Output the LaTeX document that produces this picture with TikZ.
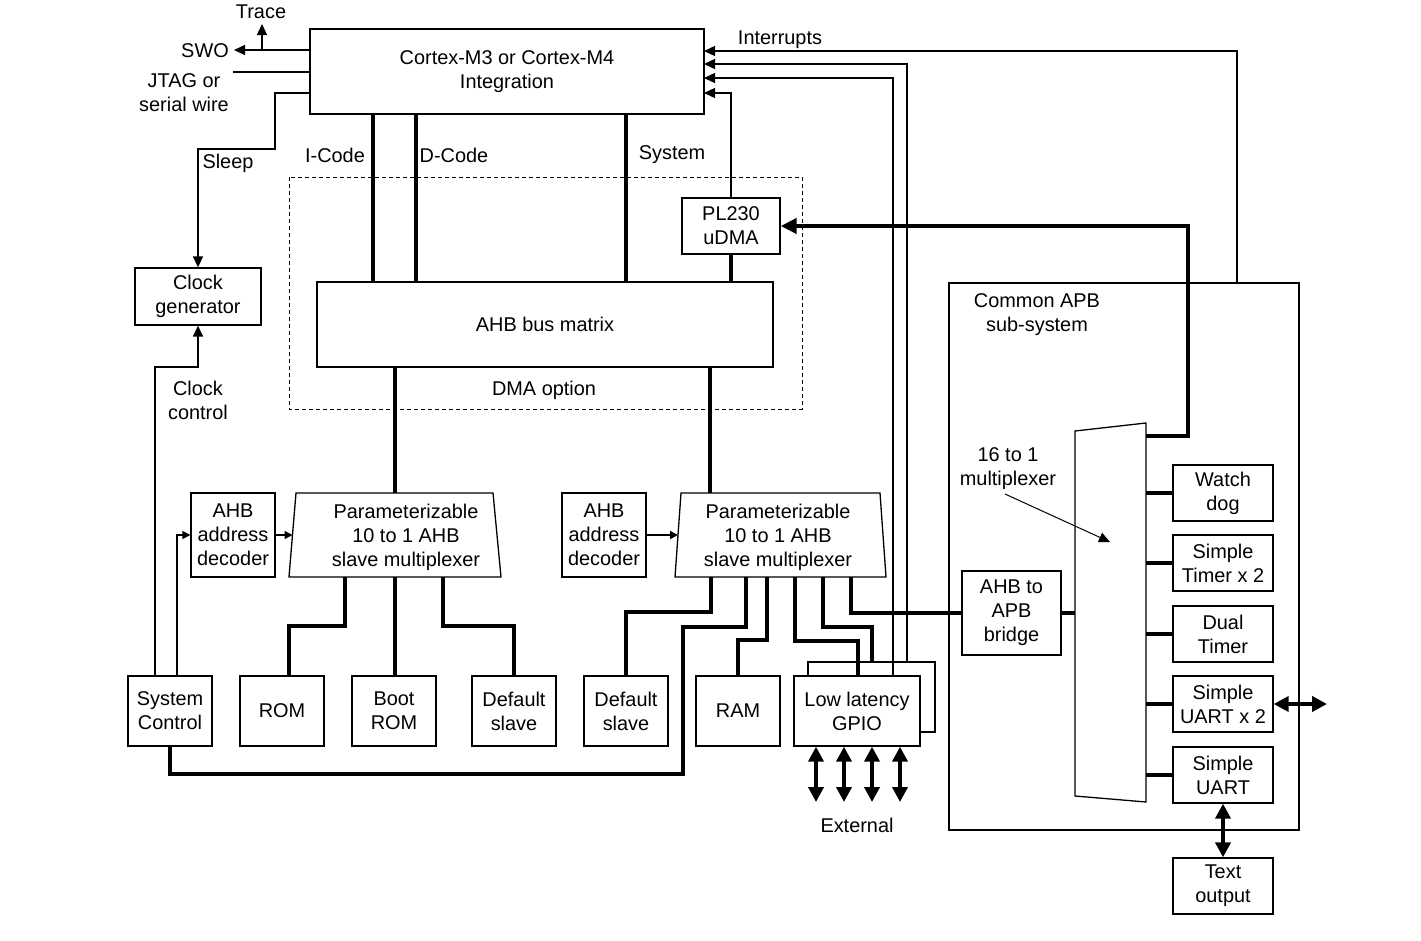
\documentclass[tikz,border=0pt]{standalone}
\usepackage{fontspec}
\setmainfont{Liberation Sans}
\usetikzlibrary{arrows.meta}
\begin{document}
\begin{tikzpicture}[x=1pt,y=-1pt,
  font=\fontsize{19.9}{24}\selectfont,
  box/.style={draw, line width=1.3pt, inner sep=0pt, align=center, fill=white},
  muxarea/.style={inner sep=0pt, minimum height=84pt, align=center},
  lbl/.style={inner sep=0pt, align=center},
  thinw/.style={line width=1.4pt},
  busw/.style={line width=4pt},
  tipS/.style={-{Triangle[length=11pt,width=10pt]}},
  tipXS/.style={-{Triangle[length=8pt,width=8pt]}},
  tipB/.style={-{Triangle[length=16pt,width=15pt]}},
  dblB/.style={{Triangle[length=15pt,width=15pt]}-{Triangle[length=15pt,width=15pt]}},
]
\useasboundingbox (0,0) rectangle (1421,940);

% dashed DMA option region
\draw[line width=1pt, dash pattern=on 4pt off 3pt] (289,177) rectangle (802,409);

% boxes
\node[box, minimum width=394pt, minimum height=85pt] (cortex) at (507,71.5) {Cortex-M3 or Cortex-M4\\Integration};
\node[box, minimum width=126pt, minimum height=57pt] (clkgen) at (198,296.5) {Clock\\generator};
\node[box, minimum width=456pt, minimum height=85pt] (bus) at (545,324.5) {AHB bus matrix};
\node[box, minimum width=98pt, minimum height=56pt] (pl230) at (731,226) {PL230\\uDMA};
\node[box, minimum width=84pt, minimum height=84pt] (dec1) at (233,535) {AHB\\address\\decoder};
\node[box, minimum width=84pt, minimum height=84pt] (dec2) at (604,535) {AHB\\address\\decoder};

% AHB slave multiplexers
\draw[line width=1.3pt] (296,493) -- (493,493) -- (501,577) -- (289,577) -- cycle;
\node[muxarea, minimum width=211pt] (mux1) at (395,535) {};
\node[lbl] (mux1t) at (406,537) {Parameterizable\\10 to 1 AHB\\slave multiplexer};
\coordinate (mux1W) at (292.5,535);
\draw[line width=1.3pt] (681,493) -- (880,493) -- (886,577) -- (675,577) -- cycle;
\node[muxarea, minimum width=211pt] (mux2) at (779,535) {};
\node[lbl] (mux2t) at (778,537) {Parameterizable\\10 to 1 AHB\\slave multiplexer};
\coordinate (mux2W) at (678,535);

\node[box, minimum width=84pt, minimum height=70pt] (sysctl) at (170,711) {System\\Control};
\node[box, minimum width=84pt, minimum height=70pt] (rom) at (282,711) {ROM};
\node[box, minimum width=84pt, minimum height=70pt] (bootrom) at (394,711) {Boot\\ROM};
\node[box, minimum width=84pt, minimum height=70pt] (def1) at (514,711) {Default\\slave};
\node[box, minimum width=84pt, minimum height=70pt] (def2) at (626,711) {Default\\slave};
\node[box, minimum width=84pt, minimum height=70pt] (ram) at (738,711) {RAM};
\node[box, minimum width=127pt, minimum height=70pt] (gpiob) at (871.5,697) {};
\node[box, minimum width=126pt, minimum height=70pt] (gpio) at (857,711) {Low latency\\GPIO};
\node[draw, line width=1.3pt, inner sep=0pt, minimum width=350pt, minimum height=547pt] (apb) at (1124,556.5) {};
\node[lbl] (apbt) at (1037,315) {Common APB\\sub-system};
\node[box, minimum width=99pt, minimum height=84pt] (bridge) at (1011.5,613) {AHB to\\APB\\bridge};
\node[box, minimum width=100pt, minimum height=56pt] (wdog) at (1223,493) {Watch\\dog};
\node[box, minimum width=100pt, minimum height=56pt] (timer2) at (1223,563) {Simple\\Timer x 2};
\node[box, minimum width=100pt, minimum height=56pt] (dual) at (1223,634) {Dual\\Timer};
\node[box, minimum width=100pt, minimum height=56pt] (uart2) at (1223,704) {Simple\\UART x 2};
\node[box, minimum width=100pt, minimum height=56pt] (uart) at (1223,775) {Simple\\UART};
\node[box, minimum width=100pt, minimum height=56pt] (textout) at (1223,886) {Text\\output};

% APB 16 to 1 multiplexer
\draw[line width=1.3pt] (1075,431) -- (1146,423) -- (1146,802) -- (1075,796) -- cycle;
\coordinate (amL) at (1075,613);
\coordinate (amR) at (1146,436);

% labels
\node[lbl] (trace) at (261,12) {Trace};
\node[lbl] (swo) at (205,51) {SWO};
\node[lbl] (jtag) at (184,93) {JTAG or\\serial wire};
\node[lbl] (sleep) at (228,163) {Sleep};
\node[lbl] (clkctl) at (198,400) {Clock\\control};
\node[lbl] (icode) at (335,155) {I-Code};
\node[lbl] (dcode) at (454,155) {D-Code};
\node[lbl] (system) at (672,155) {System};
\node[lbl] (intr) at (780,40) {Interrupts};
\node[lbl] (dmaopt) at (544,390) {DMA option};
\node[lbl] (m16) at (1008,469) {16 to 1\\multiplexer};
\node[lbl] (ext) at (857,825) {External};

% left thin connectors
\coordinate (swoE) at (234,50);
\coordinate (trB) at (262,50);
\coordinate (trE) at (262,24);
\coordinate (jtE) at (233,72);
\draw[thinw, tipS] (310,50) -- (swoE);
\draw[thinw, tipS] (trB) -- (trE);
\draw[thinw] (310,72) -- (jtE);
\draw[thinw, tipS] (310,93) -- (275,93) -- (275,149) -- (198,149) -- (clkgen.north);
\draw[thinw, tipS] (155,0 |- sysctl.north) -- (155,367) -- (198,367) -- (clkgen.south);
\draw[thinw, tipXS] (177,0 |- sysctl.north) -- (177,535) -- (dec1.west);
\draw[thinw, tipXS] (dec1.east) -- (mux1W);
\draw[thinw, tipXS] (dec2.east) -- (mux2W);

% interrupts
\draw[thinw, tipS] (1237,0 |- apb.north) |- (704,51);
\draw[thinw, tipS] (907,0 |- gpiob.north) |- (704,64);
\draw[thinw, tipS] (893,0 |- gpio.north) |- (704,78);
\draw[thinw, tipS] (pl230.north) |- (704,93);

% buses from the core
\draw[busw] (373,0 |- cortex.south) -- (373,0 |- bus.north);
\draw[busw] (416,0 |- cortex.south) -- (416,0 |- bus.north);
\draw[busw] (626,0 |- cortex.south) -- (626,0 |- bus.north);
\draw[busw] (pl230.south) -- (pl230.south |- bus.north);
\draw[busw] (mux1.north |- bus.south) -- (mux1.north);
\draw[busw] (710,0 |- bus.south) -- (710,0 |- mux2.north);

% mux 1 outputs
\draw[busw] (345,0 |- mux1.south) -- (345,626) -- (289,626) -- (289,0 |- rom.north);
\draw[busw] (395,0 |- mux1.south) -- (395,0 |- bootrom.north);
\draw[busw] (443,0 |- mux1.south) -- (443,626) -- (514,626) -- (def1.north);

% mux 2 outputs
\draw[busw] (711,0 |- mux2.south) -- (711,612) -- (626,612) -- (def2.north);
\draw[busw] (746,0 |- mux2.south) -- (746,627) -- (683,627) -- (683,774) -- (170,774) -- (sysctl.south);
\draw[busw] (767,0 |- mux2.south) -- (767,640) -- (738,640) -- (ram.north);
\draw[busw] (795,0 |- mux2.south) -- (795,641) -- (858,641) -- (858,0 |- gpio.north);
\draw[busw] (823,0 |- mux2.south) -- (823,627) -- (872,627) -- (872,0 |- gpiob.north);
\draw[busw] (851,0 |- mux2.south) -- (851,613) -- (bridge.west);

% APB side
\draw[busw] (bridge.east) -- (amL);
\draw[busw] (amR |- wdog.west) -- (wdog.west);
\draw[busw] (amR |- timer2.west) -- (timer2.west);
\draw[busw] (amR |- dual.west) -- (dual.west);
\draw[busw] (amR |- uart2.west) -- (uart2.west);
\draw[busw] (amR |- uart.west) -- (uart.west);
\draw[busw, tipB] (amR) -- (1188,436) -- (1188,226) -- (pl230.east);
\coordinate (u2E) at (1327,704);
\draw[busw, dblB] (uart2.east) -- (u2E);
\draw[busw, dblB] (uart.south) -- (textout.north);
\draw[line width=1pt, tipS] (1005,494) -- (1110,542);

% external GPIO
\foreach \xx in {816,844,872,900} {
  \draw[busw, dblB] (\xx,0 |- gpio.south) -- (\xx,802);
}
\end{tikzpicture}
\end{document}
